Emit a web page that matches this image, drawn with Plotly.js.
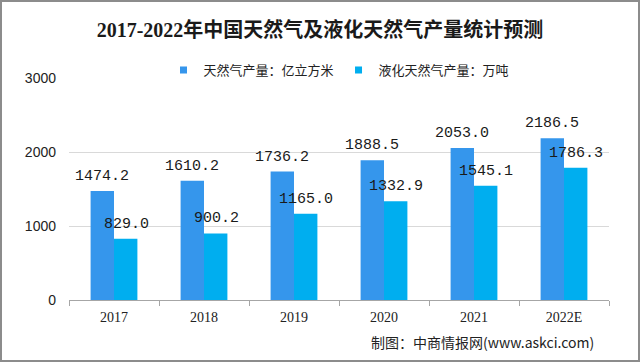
<!DOCTYPE html>
<html>
<head>
<meta charset="utf-8">
<script src="https://cdn.plot.ly/plotly-3.0.1.min.js"></script>
<style>
html,body{margin:0;padding:0;background:#fff;}
#wrap{position:relative;width:640px;height:362px;}
#chart{width:640px;height:362px;}
#frame{position:absolute;left:0;top:0;width:640px;height:362px;box-sizing:border-box;border:2px solid #8c8c8c;pointer-events:none;z-index:10;}
</style>
</head>
<body>
<div id="wrap"><div id="chart"></div><div id="frame"></div></div>
<script>
const years = ["2017", "2018", "2019", "2020", "2021", "2022E"];
const gasOutput = [1474.2, 1610.2, 1736.2, 1888.5, 2053.0, 2186.5];
const lngOutput = [829.0, 900.2, 1165.0, 1332.9, 1545.1, 1786.3];
const seriesNames = ["天然气产量：亿立方米", "液化天然气产量：万吨"];
const titleText = "2017-2022年中国天然气及液化天然气产量统计预测";
const sourceText = "制图：中商情报网(www.askci.com)";

const darkColor = "#3596ec";
const lightColor = "#00aeef";
const labelFont = {family: "Liberation Mono, DejaVu Sans Mono, monospace", size: 15, color: "#1a1a1a"};

const traces = [
  {type: "bar", name: seriesNames[0], x: years, y: gasOutput, marker: {color: darkColor}, hoverinfo: "none", showlegend: false},
  {type: "bar", name: seriesNames[1], x: years, y: lngOutput, marker: {color: lightColor}, hoverinfo: "none", showlegend: false},
  {type: "scatter", mode: "markers", name: seriesNames[0], x: [null], y: [null], marker: {symbol: "square", size: 7, color: darkColor}, showlegend: true},
  {type: "scatter", mode: "markers", name: seriesNames[1], x: [null], y: [null], marker: {symbol: "square", size: 7, color: lightColor}, showlegend: true}
];

const annotations = [];
years.forEach((yr, i) => {
  annotations.push({x: i, y: gasOutput[i], text: gasOutput[i].toFixed(1), showarrow: false,
    xref: "x", yref: "y", yanchor: "bottom", xanchor: "center", xshift: -12, yshift: 4, font: labelFont});
  annotations.push({x: i, y: lngOutput[i], text: lngOutput[i].toFixed(1), showarrow: false,
    xref: "x", yref: "y", yanchor: "bottom", xanchor: "center", xshift: 12, yshift: 4, font: labelFont});
});
annotations.push({xref: "paper", yref: "paper", x: 0.975, y: -0.19, xanchor: "right", yanchor: "middle",
  text: sourceText, showarrow: false, font: {family: "Noto Sans CJK SC, sans-serif", size: 14, color: "#222"}});

const layout = {
  width: 640, height: 362,
  margin: {l: 69, r: 31, t: 78, b: 62},
  paper_bgcolor: "#fff", plot_bgcolor: "#fff",
  title: {text: "<b>" + titleText + "</b>", x: 0.5, xanchor: "center", y: 0.918, yanchor: "middle",
    font: {family: "Liberation Serif, Noto Sans CJK SC, serif", size: 20, color: "#1a1a1a"}},
  barmode: "group", bargap: 0.48, bargroupgap: 0,
  showlegend: true,
  legend: {orientation: "h", x: 0.5, xanchor: "center", y: 1.036, yanchor: "middle",
    font: {family: "Noto Sans CJK SC, sans-serif", size: 13, color: "#222"},
    itemwidth: 30, traceorder: "normal", bgcolor: "rgba(0,0,0,0)"},
  xaxis: {type: "category", categoryorder: "array", categoryarray: years, range: [-0.5, years.length - 0.5],
    showline: true, linecolor: "#a6a6a6", linewidth: 1, ticklabelstandoff: 4,
    ticks: "outside", tickson: "boundaries", ticklen: 5, tickcolor: "#a6a6a6", tickangle: 0,
    tickfont: {family: "Liberation Serif, serif", size: 14, color: "#222"}, showgrid: false, fixedrange: true},
  yaxis: {range: [0, 3000], tickvals: [0, 1000, 2000, 3000], showgrid: true, gridcolor: "#d9d9d9",
    zeroline: false, showline: false, ticks: "", ticklabelstandoff: 12,
    tickfont: {family: "Liberation Sans, Arial, sans-serif", size: 14, color: "#222"}, fixedrange: true},
  annotations: annotations
};

Plotly.newPlot("chart", traces, layout, {displayModeBar: false, staticPlot: true});
</script>
</body>
</html>
